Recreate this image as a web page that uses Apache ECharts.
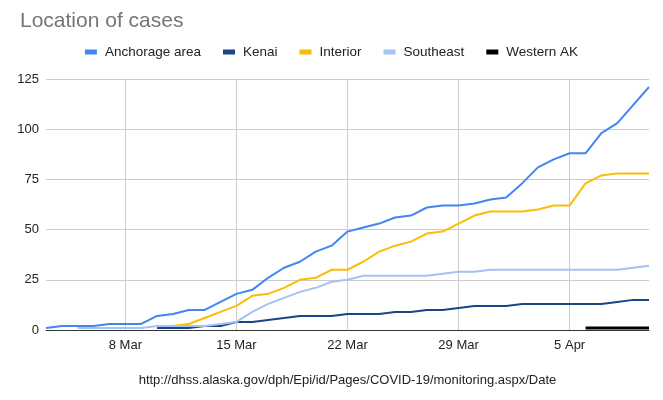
<!DOCTYPE html>
<html>
<head>
<meta charset="utf-8">
<script src="https://cdn.jsdelivr.net/npm/echarts@6/dist/echarts.min.js"></script>
<style>
  html, body { margin: 0; padding: 0; background: #fff; }
  #chart { width: 663px; height: 400px; }
</style>
</head>
<body>
<div id="chart"></div>
<script>
  // dates Mar 3 .. Apr 10
  var days = [
    '3 Mar', '4 Mar', '5 Mar', '6 Mar', '7 Mar', '8 Mar', '9 Mar', '10 Mar', '11 Mar', '12 Mar',
    '13 Mar', '14 Mar', '15 Mar', '16 Mar', '17 Mar', '18 Mar', '19 Mar', '20 Mar', '21 Mar', '22 Mar',
    '23 Mar', '24 Mar', '25 Mar', '26 Mar', '27 Mar', '28 Mar', '29 Mar', '30 Mar', '31 Mar',
    '1 Apr', '2 Apr', '3 Apr', '4 Apr', '5 Apr', '6 Apr', '7 Apr', '8 Apr', '9 Apr', '10 Apr'
  ];
  var shownDays = ['8 Mar', '15 Mar', '22 Mar', '29 Mar', '5 Apr'];

  var anchorage = [1, 2, 2, 2, 3, 3, 3, 7, 8, 10,
    10, 14, 18, 20, 26, 31, 34, 39, 42, 49,
    51, 53, 56, 57, 61, 62, 62, 63, 65,
    66, 73, 81, 85, 88, 88, 98, 103, 112, 121];
  var kenai = [null, null, null, null, null, null, null, 1, 1, 1,
    2, 2, 4, 4, 5, 6, 7, 7, 7, 8,
    8, 8, 9, 9, 10, 10, 11, 12, 12,
    12, 13, 13, 13, 13, 13, 13, 14, 15, 15];
  var interior = [null, null, null, null, null, null, null, 2, 2, 3,
    6, 9, 12, 17, 18, 21, 25, 26, 30, 30,
    34, 39, 42, 44, 48, 49, 53, 57, 59,
    59, 59, 60, 62, 62, 73, 77, 78, 78, 78];
  var southeast = [null, null, 1, 1, 1, 1, 1, 2, 2, 2,
    2, 3, 4, 9, 13, 16, 19, 21, 24, 25,
    27, 27, 27, 27, 27, 28, 29, 29, 30,
    30, 30, 30, 30, 30, 30, 30, 30, 31, 32];
  var westernAK = [null, null, null, null, null, null, null, null, null, null,
    null, null, null, null, null, null, null, null, null, null,
    null, null, null, null, null, null, null, null, null,
    null, null, null, null, null, 1, 1, 1, 1, 1];

  var chart = echarts.init(document.getElementById('chart'));

  function line(name, data, color, width) {
    return {
      name: name,
      type: 'line',
      data: data,
      showSymbol: false,
      symbol: 'none',
      lineStyle: { color: color, width: width || 2 },
      itemStyle: { color: color },
      z: 3
    };
  }

  function isShown(i) {
    return shownDays.indexOf(days[i]) >= 0;
  }

  chart.setOption({
    animation: false,
    textStyle: { fontFamily: 'Liberation Sans, Arial, sans-serif' },
    title: {
      text: 'Location of cases',
      left: 15,
      top: 6,
      textStyle: { fontSize: 21, fontWeight: 'normal', color: '#757575' }
    },
    legend: {
      top: 40,
      left: 'center',
      icon: 'rect',
      itemWidth: 12,
      itemHeight: 5,
      itemGap: 22,
      textStyle: { fontSize: 13.5, color: '#222', padding: [0, 0, 0, 3] },
      data: ['Anchorage area', 'Kenai', 'Interior', 'Southeast', 'Western AK']
    },
    grid: { left: 46, right: 14, top: 79, bottom: 70 },
    xAxis: {
      type: 'category',
      data: days,
      boundaryGap: false,
      name: 'http://dhss.alaska.gov/dph/Epi/id/Pages/COVID-19/monitoring.aspx/Date',
      nameLocation: 'middle',
      nameGap: 44,
      nameTextStyle: { fontSize: 13, color: '#222' },
      axisLine: { lineStyle: { color: '#333', width: 1 } },
      axisTick: { show: false },
      axisLabel: { interval: isShown, fontSize: 13, color: '#222', margin: 9 },
      splitLine: { show: true, interval: isShown, lineStyle: { color: '#ccc', width: 1 } }
    },
    yAxis: {
      type: 'value',
      min: 0,
      max: 125,
      interval: 25,
      axisLine: { show: false },
      axisTick: { show: false },
      axisLabel: { fontSize: 13, color: '#222', margin: 7 },
      splitLine: { lineStyle: { color: '#ccc', width: 1 } }
    },
    series: [
      line('Anchorage area', anchorage, '#4285f4'),
      line('Kenai', kenai, '#1c4587'),
      line('Interior', interior, '#fbbc04'),
      line('Southeast', southeast, '#a4c2f4'),
      line('Western AK', westernAK, '#000000', 3)
    ]
  });
</script>
</body>
</html>
